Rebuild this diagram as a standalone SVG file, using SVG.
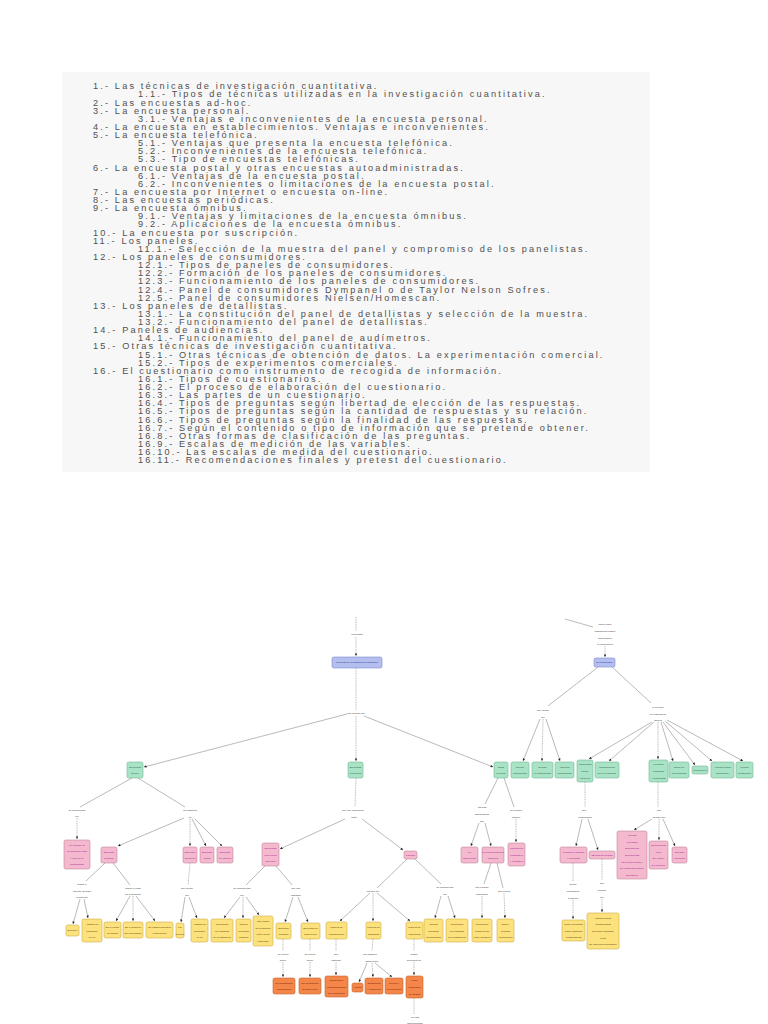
<svg xmlns="http://www.w3.org/2000/svg" width="768" height="1024" viewBox="0 0 768 1024">
<style>
.ol{font-family:"Liberation Sans",Arial,sans-serif;font-size:9.2px;letter-spacing:2.15px;fill:#505050}
.nd rect{stroke-width:0.6;rx:1.8px;ry:1.8px}
.nd text{font-family:"Liberation Sans",Arial,sans-serif;font-size:2.5px;text-anchor:middle;dominant-baseline:central}
.blue rect{fill:#b4bff0;stroke:#7d8ccc}.blue text{fill:#24348a}
.green rect{fill:#a9e3c6;stroke:#72b894}.green text{fill:#1d5a3a}
.pink rect{fill:#f4b8cf;stroke:#c08699}.pink text{fill:#a0208a}
.yellow rect{fill:#fde17c;stroke:#cfae4a}.yellow text{fill:#4d3d05}
.orange rect{fill:#f4864a;stroke:#c8662e}.orange text{fill:#6a1a00}
.cn line{stroke:#808080;stroke-width:0.55;fill:none}
.cn .d{stroke-dasharray:1 0.7}
.cn .a{marker-end:url(#ah)}
.lb text{font-family:"Liberation Sans",Arial,sans-serif;font-size:2.5px;text-anchor:middle;dominant-baseline:central;fill:#333}
</style>
<defs>
<marker id="ah" viewBox="0 0 6 6" refX="6" refY="3" markerWidth="2.6" markerHeight="2.6" markerUnits="userSpaceOnUse" orient="auto"><path d="M0,0L6,3L0,6z" fill="#222"/></marker>
</defs>
<rect width="768" height="1024" fill="#ffffff"/>
<rect x="62" y="72" width="588" height="400" fill="#f7f7f7"/>
<g id="outline">
<text class="ol"><tspan x="93" y="89.2">1.- Las técnicas de investigación cuantitativa.</tspan><tspan x="138" y="97.3">1.1.- Tipos de técnicas utilizadas en la investigación cuantitativa.</tspan><tspan x="93" y="105.5">2.- Las encuestas ad-hoc.</tspan><tspan x="93" y="113.6">3.- La encuesta personal.</tspan><tspan x="138" y="121.7">3.1.- Ventajas e inconvenientes de la encuesta personal.</tspan><tspan x="93" y="129.9">4.- La encuesta en establecimientos. Ventajas e inconvenientes.</tspan><tspan x="93" y="138">5.- La encuesta telefónica.</tspan><tspan x="138" y="146.1">5.1.- Ventajas que presenta la encuesta telefónica.</tspan><tspan x="138" y="154.2">5.2.- Inconvenientes de la encuesta telefónica.</tspan><tspan x="138" y="162.4">5.3.- Tipo de encuestas telefónicas.</tspan><tspan x="93" y="170.5">6.- La encuesta postal y otras encuestas autoadministradas.</tspan><tspan x="138" y="178.6">6.1.- Ventajas de la encuesta postal.</tspan><tspan x="138" y="186.8">6.2.- Inconvenientes o limitaciones de la encuesta postal.</tspan><tspan x="93" y="194.9">7.- La encuesta por Internet o encuesta on-line.</tspan><tspan x="93" y="203">8.- Las encuestas periódicas.</tspan><tspan x="93" y="211.2">9.- La encuesta ómnibus.</tspan><tspan x="138" y="219.3">9.1.- Ventajas y limitaciones de la encuesta ómnibus.</tspan><tspan x="138" y="227.4">9.2.- Aplicaciones de la encuesta ómnibus.</tspan><tspan x="93" y="235.5">10.- La encuesta por suscripción.</tspan><tspan x="93" y="243.7">11.- Los paneles.</tspan><tspan x="138" y="251.8">11.1.- Selección de la muestra del panel y compromiso de los panelistas.</tspan><tspan x="93" y="259.9">12.- Los paneles de consumidores.</tspan><tspan x="138" y="268.1">12.1.- Tipos de paneles de consumidores.</tspan><tspan x="138" y="276.2">12.2.- Formación de los paneles de consumidores.</tspan><tspan x="138" y="284.3">12.3.- Funcionamiento de los paneles de consumidores.</tspan><tspan x="138" y="292.5">12.4.- Panel de consumidores Dympanel o de Taylor Nelson Sofres.</tspan><tspan x="138" y="300.6">12.5.- Panel de consumidores Nielsen/Homescan.</tspan><tspan x="93" y="308.7">13.- Los paneles de detallistas.</tspan><tspan x="138" y="316.8">13.1.- La constitución del panel de detallistas y selección de la muestra.</tspan><tspan x="138" y="325">13.2.- Funcionamiento del panel de detallistas.</tspan><tspan x="93" y="333.1">14.- Paneles de audiencias.</tspan><tspan x="138" y="341.2">14.1.- Funcionamiento del panel de audímetros.</tspan><tspan x="93" y="349.4">15.- Otras técnicas de investigación cuantitativa.</tspan><tspan x="138" y="357.5">15.1.- Otras técnicas de obtención de datos. La experimentación comercial.</tspan><tspan x="138" y="365.6">15.2.- Tipos de experimentos comerciales.</tspan><tspan x="93" y="373.8">16.- El cuestionario como instrumento de recogida de información.</tspan><tspan x="138" y="381.9">16.1.- Tipos de cuestionarios.</tspan><tspan x="138" y="390">16.2.- El proceso de elaboración del cuestionario.</tspan><tspan x="138" y="398.1">16.3.- Las partes de un cuestionario.</tspan><tspan x="138" y="406.3">16.4.- Tipos de preguntas según libertad de elección de las respuestas.</tspan><tspan x="138" y="414.4">16.5.- Tipos de preguntas según la cantidad de respuestas y su relación.</tspan><tspan x="138" y="422.5">16.6.- Tipos de preguntas según la finalidad de las respuestas.</tspan><tspan x="138" y="430.7">16.7.- Según el contenido o tipo de información que se pretende obtener.</tspan><tspan x="138" y="438.8">16.8.- Otras formas de clasificación de las preguntas.</tspan><tspan x="138" y="446.9">16.9.- Escalas de medición de las variables.</tspan><tspan x="138" y="455.1">16.10.- Las escalas de medida del cuestionario.</tspan><tspan x="138" y="463.2">16.11.- Recomendaciones finales y pretest del cuestionario.</tspan></text>
</g>

<g id="connectors" class="cn">
<line class="d" x1="356" y1="617" x2="356" y2="631"/>
<line class="d a" x1="356" y1="637" x2="356" y2="656"/>
<line class="d" x1="356" y1="668" x2="356" y2="710"/>
<line class="a" x1="347" y1="714" x2="144" y2="767"/>
<line class="d a" x1="356" y1="716" x2="356" y2="761"/>
<line class="a" x1="364" y1="716" x2="493" y2="767"/>
<line x1="132" y1="778" x2="80" y2="807"/>
<line x1="138" y1="778" x2="185" y2="807"/>
<line class="d a" x1="77" y1="818" x2="77" y2="839"/>
<line class="a" x1="184" y1="818" x2="118" y2="846"/>
<line class="d a" x1="190" y1="819" x2="190" y2="846"/>
<line class="a" x1="192" y1="819" x2="206" y2="846"/>
<line class="a" x1="195" y1="819" x2="222" y2="846"/>
<line x1="105" y1="863" x2="86" y2="881"/>
<line x1="113" y1="863" x2="130" y2="885"/>
<line class="a" x1="80" y1="899" x2="73" y2="924"/>
<line class="a" x1="84" y1="899" x2="88" y2="918"/>
<line class="a" x1="130" y1="896" x2="116" y2="921"/>
<line class="d a" x1="133" y1="896" x2="133" y2="921"/>
<line class="a" x1="136" y1="896" x2="155" y2="921"/>
<line class="d" x1="190" y1="863" x2="188" y2="885"/>
<line class="a" x1="185" y1="897" x2="181" y2="922"/>
<line class="a" x1="189" y1="897" x2="197" y2="918"/>
<line class="d" x1="356" y1="778" x2="355" y2="807"/>
<line class="a" x1="345" y1="819" x2="280" y2="849"/>
<line class="a" x1="362" y1="819" x2="403" y2="850"/>
<line x1="265" y1="866" x2="246" y2="885"/>
<line x1="276" y1="866" x2="292" y2="885"/>
<line class="a" x1="240" y1="897" x2="224" y2="918"/>
<line class="d a" x1="243" y1="897" x2="243" y2="918"/>
<line class="a" x1="246" y1="897" x2="259" y2="915"/>
<line class="a" x1="293" y1="897" x2="285" y2="922"/>
<line class="a" x1="298" y1="897" x2="308" y2="922"/>
<line class="d" x1="283" y1="939" x2="283" y2="951"/>
<line class="d a" x1="283" y1="962" x2="283" y2="977"/>
<line class="d" x1="310" y1="939" x2="310" y2="951"/>
<line class="d a" x1="310" y1="962" x2="310" y2="977"/>
<line x1="407" y1="859" x2="377" y2="888"/>
<line x1="415" y1="859" x2="441" y2="884"/>
<line class="a" x1="370" y1="893" x2="340" y2="921"/>
<line class="d a" x1="373" y1="893" x2="373" y2="921"/>
<line class="a" x1="377" y1="893" x2="410" y2="921"/>
<line class="a" x1="441" y1="896" x2="435" y2="918"/>
<line class="a" x1="448" y1="896" x2="455" y2="918"/>
<line class="d" x1="336" y1="939" x2="336" y2="951"/>
<line class="d a" x1="336" y1="962" x2="336" y2="975"/>
<line class="d" x1="373" y1="939" x2="372" y2="951"/>
<line class="a" x1="367" y1="963" x2="359" y2="982"/>
<line class="d a" x1="372" y1="963" x2="373" y2="977"/>
<line class="a" x1="375" y1="963" x2="392" y2="977"/>
<line class="d" x1="414" y1="939" x2="414" y2="951"/>
<line class="d a" x1="414" y1="962" x2="414" y2="975"/>
<line class="d" x1="414" y1="998" x2="414" y2="1014"/>
<line x1="498" y1="778" x2="485" y2="804"/>
<line x1="504" y1="778" x2="514" y2="807"/>
<line class="a" x1="479" y1="823" x2="471" y2="846"/>
<line class="a" x1="485" y1="823" x2="491" y2="846"/>
<line class="d a" x1="516" y1="819" x2="516" y2="842"/>
<line x1="491" y1="863" x2="484" y2="884"/>
<line x1="497" y1="863" x2="503" y2="888"/>
<line class="d a" x1="482" y1="896" x2="482" y2="918"/>
<line class="d a" x1="504" y1="893" x2="505" y2="918"/>
<line x1="565" y1="619" x2="593" y2="627"/>
<line class="d a" x1="605" y1="646" x2="605" y2="657"/>
<line x1="598" y1="667" x2="548" y2="706"/>
<line x1="612" y1="667" x2="651" y2="703"/>
<line class="a" x1="540" y1="719" x2="523" y2="761"/>
<line class="d a" x1="543" y1="719" x2="542" y2="761"/>
<line class="a" x1="546" y1="719" x2="560" y2="761"/>
<line class="a" x1="652" y1="722" x2="589" y2="759"/>
<line class="a" x1="654" y1="722" x2="609" y2="761"/>
<line class="d a" x1="658" y1="722" x2="658" y2="759"/>
<line class="a" x1="661" y1="722" x2="673" y2="761"/>
<line class="a" x1="663" y1="722" x2="695" y2="765"/>
<line class="a" x1="665" y1="721" x2="712" y2="761"/>
<line class="a" x1="667" y1="720" x2="743" y2="761"/>
<line class="d" x1="585" y1="782" x2="585" y2="807"/>
<line class="a" x1="582" y1="819" x2="576" y2="846"/>
<line class="a" x1="588" y1="819" x2="598" y2="850"/>
<line class="d" x1="573" y1="863" x2="573" y2="881"/>
<line class="d a" x1="573" y1="900" x2="573" y2="919"/>
<line class="d" x1="602" y1="859" x2="602" y2="880"/>
<line class="d a" x1="602" y1="899" x2="602" y2="912"/>
<line class="d" x1="658" y1="782" x2="658" y2="807"/>
<line class="a" x1="652" y1="819" x2="634" y2="830"/>
<line class="d a" x1="659" y1="819" x2="659" y2="840"/>
<line class="a" x1="663" y1="819" x2="675" y2="846"/>
<g class="lb">
<text x="357" y="634">realizadas</text>
<text x="356" y="713">que pueden ser</text>
<text><tspan x="77" y="810">se caracterizan</tspan><tspan x="77" y="816">por</tspan></text>
<text><tspan x="190" y="810">se clasifican</tspan><tspan x="190" y="817">en</tspan></text>
<text><tspan x="353" y="810">hay que diferenciar</tspan><tspan x="354" y="817">entre</tspan></text>
<text><tspan x="482" y="807">las más</tspan><tspan x="482" y="814">significativas</tspan><tspan x="482" y="821">son</tspan></text>
<text><tspan x="516" y="810">se pueden</tspan><tspan x="516" y="817">obtener</tspan></text>
<text><tspan x="605" y="624">utiliza como</tspan><tspan x="605" y="631">instrumento básico</tspan><tspan x="605" y="638">para obtener</tspan><tspan x="605" y="644">la información</tspan></text>
<text><tspan x="543" y="710">que puede</tspan><tspan x="543" y="717">ser</tspan></text>
<text><tspan x="658" y="707">el proceso</tspan><tspan x="658" y="713.5">de elaboración</tspan><tspan x="658" y="720">abarca</tspan></text>
<text><tspan x="82" y="884">según el</tspan><tspan x="82" y="890.5">soporte utilizado</tspan><tspan x="82" y="897">puede ser</tspan></text>
<text><tspan x="133" y="888">según el lugar</tspan><tspan x="133" y="894">de realización</tspan></text>
<text><tspan x="187" y="888">que puede</tspan><tspan x="187" y="895">ser</tspan></text>
<text><tspan x="242" y="888">se caracterizan</tspan><tspan x="242" y="895">por</tspan></text>
<text><tspan x="296" y="888">hay que</tspan><tspan x="296" y="895">distinguir</tspan></text>
<text><tspan x="283" y="954">se realiza</tspan><tspan x="283" y="960">sobre</tspan></text>
<text><tspan x="310" y="954">se realiza</tspan><tspan x="310" y="960">sobre</tspan></text>
<text x="373" y="891">pueden ser</text>
<text><tspan x="445" y="887">se caracterizan</tspan><tspan x="445" y="894">por</tspan></text>
<text><tspan x="336" y="954">que</tspan><tspan x="336" y="960">estudian</tspan></text>
<text><tspan x="370" y="954">que también</tspan><tspan x="372" y="961">datos sobre</tspan></text>
<text><tspan x="414" y="954">miden</tspan><tspan x="414" y="960">funciones de</tspan></text>
<text><tspan x="415" y="1017">Se está</tspan><tspan x="415" y="1023">generalizando</tspan></text>
<text><tspan x="482" y="887">que permite</tspan><tspan x="482" y="894">determinar</tspan></text>
<text x="504" y="891">que realiza</text>
<text><tspan x="584" y="810">que</tspan><tspan x="585" y="817">comprenden</tspan></text>
<text><tspan x="573" y="884">según</tspan><tspan x="573" y="891">información</tspan><tspan x="573" y="898">a obtener</tspan></text>
<text><tspan x="602" y="883">que</tspan><tspan x="602" y="890">pueden</tspan><tspan x="602" y="897">ser</tspan></text>
<text><tspan x="659" y="810">que</tspan><tspan x="659" y="817">pueden ser</tspan></text>
</g>
</g>

<g id="n-tecnicas" class="nd blue"><rect x="332" y="657" width="50" height="11"/><text x="357" y="662.5">Técnicas de investigación cuantitativa</text></g>
<g id="n-cuestionario" class="nd blue"><rect x="594" y="658" width="21" height="9"/><text x="604.5" y="662.5">El cuestionario</text></g>

<g id="n-adhoc" class="nd green"><rect x="127" y="762" width="16" height="16"/><text><tspan x="135" y="766.7">Encuestas</tspan><tspan x="135" y="773.3">ad-hoc</tspan></text></g>
<g id="n-periodicas" class="nd green"><rect x="348" y="762" width="15" height="16"/><text><tspan x="355.5" y="766.7">Encuestas</tspan><tspan x="355.5" y="773.3">periódicas</tspan></text></g>
<g id="n-otras" class="nd green"><rect x="494" y="762" width="14" height="16"/><text><tspan x="501" y="766.7">Otras</tspan><tspan x="501" y="773.3">técnicas</tspan></text></g>
<g id="n-directa-est" class="nd green"><rect x="511" y="762" width="18" height="16"/><text><tspan x="520" y="766.7">Directa</tspan><tspan x="520" y="773.3">estructurada</tspan></text></g>
<g id="n-directa-noest" class="nd green"><rect x="532" y="762" width="21" height="16"/><text><tspan x="542.5" y="766.7">Directa</tspan><tspan x="542.5" y="773.3">no estructurada</tspan></text></g>
<g id="n-indirecta" class="nd green"><rect x="555" y="762" width="19" height="16"/><text><tspan x="564.5" y="766.7">Indirecta</tspan><tspan x="564.5" y="773.3">estructurada</tspan></text></g>
<g id="n-contenidos" class="nd green"><rect x="577" y="760" width="16" height="22"/><text><tspan x="585" y="764.4">Contenidos</tspan><tspan x="585" y="771">según</tspan><tspan x="585" y="777.6">objetivos</tspan></text></g>
<g id="n-consideracion" class="nd green"><rect x="595" y="762" width="24" height="16"/><text><tspan x="607" y="766.7">Consideración</tspan><tspan x="607" y="773.3">tipo de encuesta</tspan></text></g>
<g id="n-formular" class="nd green"><rect x="649" y="760" width="19" height="22"/><text><tspan x="658.5" y="764.4">Formular</tspan><tspan x="658.5" y="771">preguntas</tspan><tspan x="658.5" y="777.6">y respuestas</tspan></text></g>
<g id="n-orden" class="nd green"><rect x="669" y="762" width="20" height="16"/><text><tspan x="679" y="766.7">Orden de</tspan><tspan x="679" y="773.3">las preguntas</tspan></text></g>
<g id="n-codificacion" class="nd green"><rect x="692" y="766" width="16" height="8"/><text x="700" y="770">Codificación</text></g>
<g id="n-aspecto" class="nd green"><rect x="711" y="762" width="23" height="16"/><text><tspan x="722.5" y="766.7">Aspecto formal</tspan><tspan x="722.5" y="773.3">documento</tspan></text></g>
<g id="n-pretest" class="nd green"><rect x="736" y="762" width="17" height="16"/><text><tspan x="744.5" y="766.7">Pretest</tspan><tspan x="744.5" y="773.3">cuestionario</tspan></text></g>

<g id="n-momento" class="nd pink"><rect x="64" y="840" width="26" height="29"/><text><tspan x="77" y="844.6">Se realizan en</tspan><tspan x="77" y="851.2">un momento dado</tspan><tspan x="77" y="857.8">y con un fin</tspan><tspan x="77" y="864.4">determinado</tspan></text></g>
<g id="n-personal" class="nd pink"><rect x="101" y="847" width="16" height="16"/><text><tspan x="109" y="851.7">Encuesta</tspan><tspan x="109" y="858.3">personal</tspan></text></g>
<g id="n-telefonica" class="nd pink"><rect x="183" y="847" width="14" height="16"/><text><tspan x="190" y="851.7">Encuesta</tspan><tspan x="190" y="858.3">telefónica</tspan></text></g>
<g id="n-postal" class="nd pink"><rect x="200" y="847" width="14" height="16"/><text><tspan x="207" y="851.7">Encuesta</tspan><tspan x="207" y="858.3">postal</tspan></text></g>
<g id="n-internet" class="nd pink"><rect x="217" y="847" width="16" height="16"/><text><tspan x="225" y="851.7">Encuesta</tspan><tspan x="225" y="858.3">por internet</tspan></text></g>
<g id="n-varios" class="nd pink"><rect x="262" y="843" width="17" height="23"/><text><tspan x="270.5" y="847.9">Encuestas</tspan><tspan x="270.5" y="854.5">para varios</tspan><tspan x="270.5" y="861.1">intereses</tspan></text></g>
<g id="n-paneles" class="nd pink"><rect x="404" y="851" width="13" height="8"/><text x="410.5" y="855">Paneles</text></g>
<g id="n-observacion" class="nd pink"><rect x="461" y="847" width="17" height="16"/><text><tspan x="469.5" y="851.7">La</tspan><tspan x="469.5" y="858.3">observación</tspan></text></g>
<g id="n-experimentacion" class="nd pink"><rect x="482" y="847" width="22" height="16"/><text><tspan x="493" y="851.7">La experimentación</tspan><tspan x="493" y="858.3">comercial</tspan></text></g>
<g id="n-informacion" class="nd pink"><rect x="508" y="843" width="17" height="23"/><text><tspan x="516.5" y="847.9">Información</tspan><tspan x="516.5" y="854.5">cuantitativa</tspan><tspan x="516.5" y="861.1">y cualitativa</tspan></text></g>
<g id="n-variables" class="nd pink"><rect x="560" y="847" width="27" height="16"/><text><tspan x="573.5" y="851.7">Variables a estudiar</tspan><tspan x="573.5" y="858.3">y preguntas</tspan></text></g>
<g id="n-escalas" class="nd pink"><rect x="589" y="851" width="26" height="8"/><text x="602" y="855">Escalas de medida</text></g>
<g id="n-abiertas" class="nd pink"><rect x="617" y="831" width="30" height="48"/><text><tspan x="632" y="835.2">Abiertas</tspan><tspan x="632" y="841.8">Cerradas</tspan><tspan x="632" y="848.4">Dicotómicas</tspan><tspan x="632" y="855">Semiabiertas</tspan><tspan x="632" y="861.6">De opción múltiple</tspan><tspan x="632" y="868.2">De respuesta múltiple</tspan><tspan x="632" y="874.8">En batería</tspan></text></g>
<g id="n-introductorias" class="nd pink"><rect x="649" y="841" width="19" height="28"/><text><tspan x="658.5" y="845.1">Introductorias</tspan><tspan x="658.5" y="851.7">Filtro</tspan><tspan x="658.5" y="858.3">De control</tspan><tspan x="658.5" y="864.9">De recuerdo</tspan></text></g>
<g id="n-directas" class="nd pink"><rect x="672" y="847" width="15" height="16"/><text><tspan x="679.5" y="851.7">Directas</tspan><tspan x="679.5" y="858.3">Indirectas</tspan></text></g>

<g id="n-papel" class="nd yellow"><rect x="66" y="925" width="13" height="11"/><text x="72.5" y="930.5">En papel</text></g>
<g id="n-capi" class="nd yellow"><rect x="82" y="919" width="20" height="23"/><text><tspan x="92" y="923.9">Asistida por</tspan><tspan x="92" y="930.5">ordenador</tspan><tspan x="92" y="937.1">“CAPI”</tspan></text></g>
<g id="n-centro" class="nd yellow"><rect x="104" y="922" width="17" height="16"/><text><tspan x="112.5" y="926.7">En el centro</tspan><tspan x="112.5" y="933.3">de trabajo</tspan></text></g>
<g id="n-domicilio" class="nd yellow"><rect x="123" y="922" width="20" height="16"/><text><tspan x="133" y="926.7">En el domicilio</tspan><tspan x="133" y="933.3">del encuestado</tspan></text></g>
<g id="n-establecimientos" class="nd yellow"><rect x="146" y="922" width="27" height="16"/><text><tspan x="159.5" y="926.7">En establecimientos</tspan><tspan x="159.5" y="933.3">comerciales</tspan></text></g>
<g id="n-telefono" class="nd yellow"><rect x="176" y="923" width="8" height="15"/><text><tspan x="180" y="927.2">Por</tspan><tspan x="180" y="933.8">teléfono</tspan></text></g>
<g id="n-cati" class="nd yellow"><rect x="191" y="919" width="17" height="23"/><text><tspan x="199.5" y="923.9">Asistida por</tspan><tspan x="199.5" y="930.5">ordenador</tspan><tspan x="199.5" y="937.1">“CATI”</tspan></text></g>
<g id="n-institutos1" class="nd yellow"><rect x="211" y="919" width="22" height="23"/><text><tspan x="222" y="923.9">Realizados</tspan><tspan x="222" y="930.5">por institutos</tspan><tspan x="222" y="937.1">de investigación</tspan></text></g>
<g id="n-estables" class="nd yellow"><rect x="236" y="919" width="15" height="23"/><text><tspan x="243.5" y="923.9">Utilizan</tspan><tspan x="243.5" y="930.5">muestras</tspan><tspan x="243.5" y="937.1">estables</tspan></text></g>
<g id="n-costes" class="nd yellow"><rect x="253" y="916" width="20" height="30"/><text><tspan x="263" y="921.1">Sus costes</tspan><tspan x="263" y="927.7">se comparten</tspan><tspan x="263" y="934.3">entre varias</tspan><tspan x="263" y="940.9">empresas</tspan></text></g>
<g id="n-omnibus" class="nd yellow"><rect x="276" y="923" width="15" height="16"/><text><tspan x="283.5" y="927.7">Encuesta</tspan><tspan x="283.5" y="934.3">ómnibus</tspan></text></g>
<g id="n-suscripcion" class="nd yellow"><rect x="301" y="923" width="19" height="16"/><text><tspan x="310.5" y="927.7">Encuesta por</tspan><tspan x="310.5" y="934.3">suscripción</tspan></text></g>
<g id="n-consumidores" class="nd yellow"><rect x="326" y="922" width="21" height="17"/><text><tspan x="336.5" y="927.2">Paneles de</tspan><tspan x="336.5" y="933.8">consumidores</tspan></text></g>
<g id="n-detallistas" class="nd yellow"><rect x="366" y="922" width="15" height="17"/><text><tspan x="373.5" y="927.2">Paneles de</tspan><tspan x="373.5" y="933.8">detallistas</tspan></text></g>
<g id="n-audiencias" class="nd yellow"><rect x="406" y="922" width="17" height="17"/><text><tspan x="414.5" y="927.2">Paneles de</tspan><tspan x="414.5" y="933.8">audiencias</tspan></text></g>
<g id="n-permanentes" class="nd yellow"><rect x="424" y="919" width="19" height="23"/><text><tspan x="433.5" y="923.9">Utilizan</tspan><tspan x="433.5" y="930.5">muestras</tspan><tspan x="433.5" y="937.1">permanentes</tspan></text></g>
<g id="n-institutos2" class="nd yellow"><rect x="446" y="919" width="22" height="23"/><text><tspan x="457" y="923.9">Realizados</tspan><tspan x="457" y="930.5">por institutos</tspan><tspan x="457" y="937.1">de investigación</tspan></text></g>
<g id="n-causa" class="nd yellow"><rect x="472" y="919" width="20" height="23"/><text><tspan x="482" y="923.9">Relaciones</tspan><tspan x="482" y="930.5">causa efecto</tspan><tspan x="482" y="937.1">entre variables</tspan></text></g>
<g id="n-tests" class="nd yellow"><rect x="497" y="919" width="17" height="23"/><text><tspan x="505.5" y="923.9">Tests y</tspan><tspan x="505.5" y="930.5">pruebas</tspan><tspan x="505.5" y="937.1">comerciales</tspan></text></g>
<g id="n-conductas" class="nd yellow"><rect x="562" y="920" width="23" height="21"/><text><tspan x="573.5" y="923.9">Sobre conductas</tspan><tspan x="573.5" y="930.5">Sobre actitudes</tspan><tspan x="573.5" y="937.1">Clasificatorias</tspan></text></g>
<g id="n-categorizadas" class="nd yellow"><rect x="587" y="913" width="32" height="36"/><text><tspan x="603" y="917.8">Categorizadas</tspan><tspan x="603" y="924.4">Jerarquizadas</tspan><tspan x="603" y="931">De suma constante</tspan><tspan x="603" y="937.6">Likert</tspan><tspan x="603" y="944.2">De diferencial semántico</tspan></text></g>

<g id="n-multitematico" class="nd orange"><rect x="273" y="978" width="22" height="16"/><text><tspan x="284" y="982.7">Un cuestionario</tspan><tspan x="284" y="989.3">multitemático</tspan></text></g>
<g id="n-tema-unico" class="nd orange"><rect x="299" y="978" width="22" height="16"/><text><tspan x="310" y="982.7">Un cuestionario</tspan><tspan x="310" y="989.3">de tema único</tspan></text></g>
<g id="n-tendencias" class="nd orange"><rect x="325" y="976" width="23" height="21"/><text><tspan x="336.5" y="979.9">Tendencias y</tspan><tspan x="336.5" y="986.5">comportamientos</tspan><tspan x="336.5" y="993.1">del consumidor</tspan></text></g>
<g id="n-ventas" class="nd orange"><rect x="352" y="983" width="11" height="9"/><text x="357.5" y="987.5">Ventas</text></g>
<g id="n-existencias" class="nd orange"><rect x="365" y="978" width="18" height="16"/><text><tspan x="374" y="982.7">Existencias</tspan><tspan x="374" y="989.3">y rotaciones</tspan></text></g>
<g id="n-precios" class="nd orange"><rect x="385" y="978" width="18" height="16"/><text><tspan x="394" y="982.7">Precios y</tspan><tspan x="394" y="989.3">promociones</tspan></text></g>
<g id="n-medir" class="nd orange"><rect x="406" y="976" width="17" height="22"/><text><tspan x="414.5" y="980.4">Medir</tspan><tspan x="414.5" y="987">audiencias</tspan><tspan x="414.5" y="993.6">de medios</tspan></text></g>
</svg>
